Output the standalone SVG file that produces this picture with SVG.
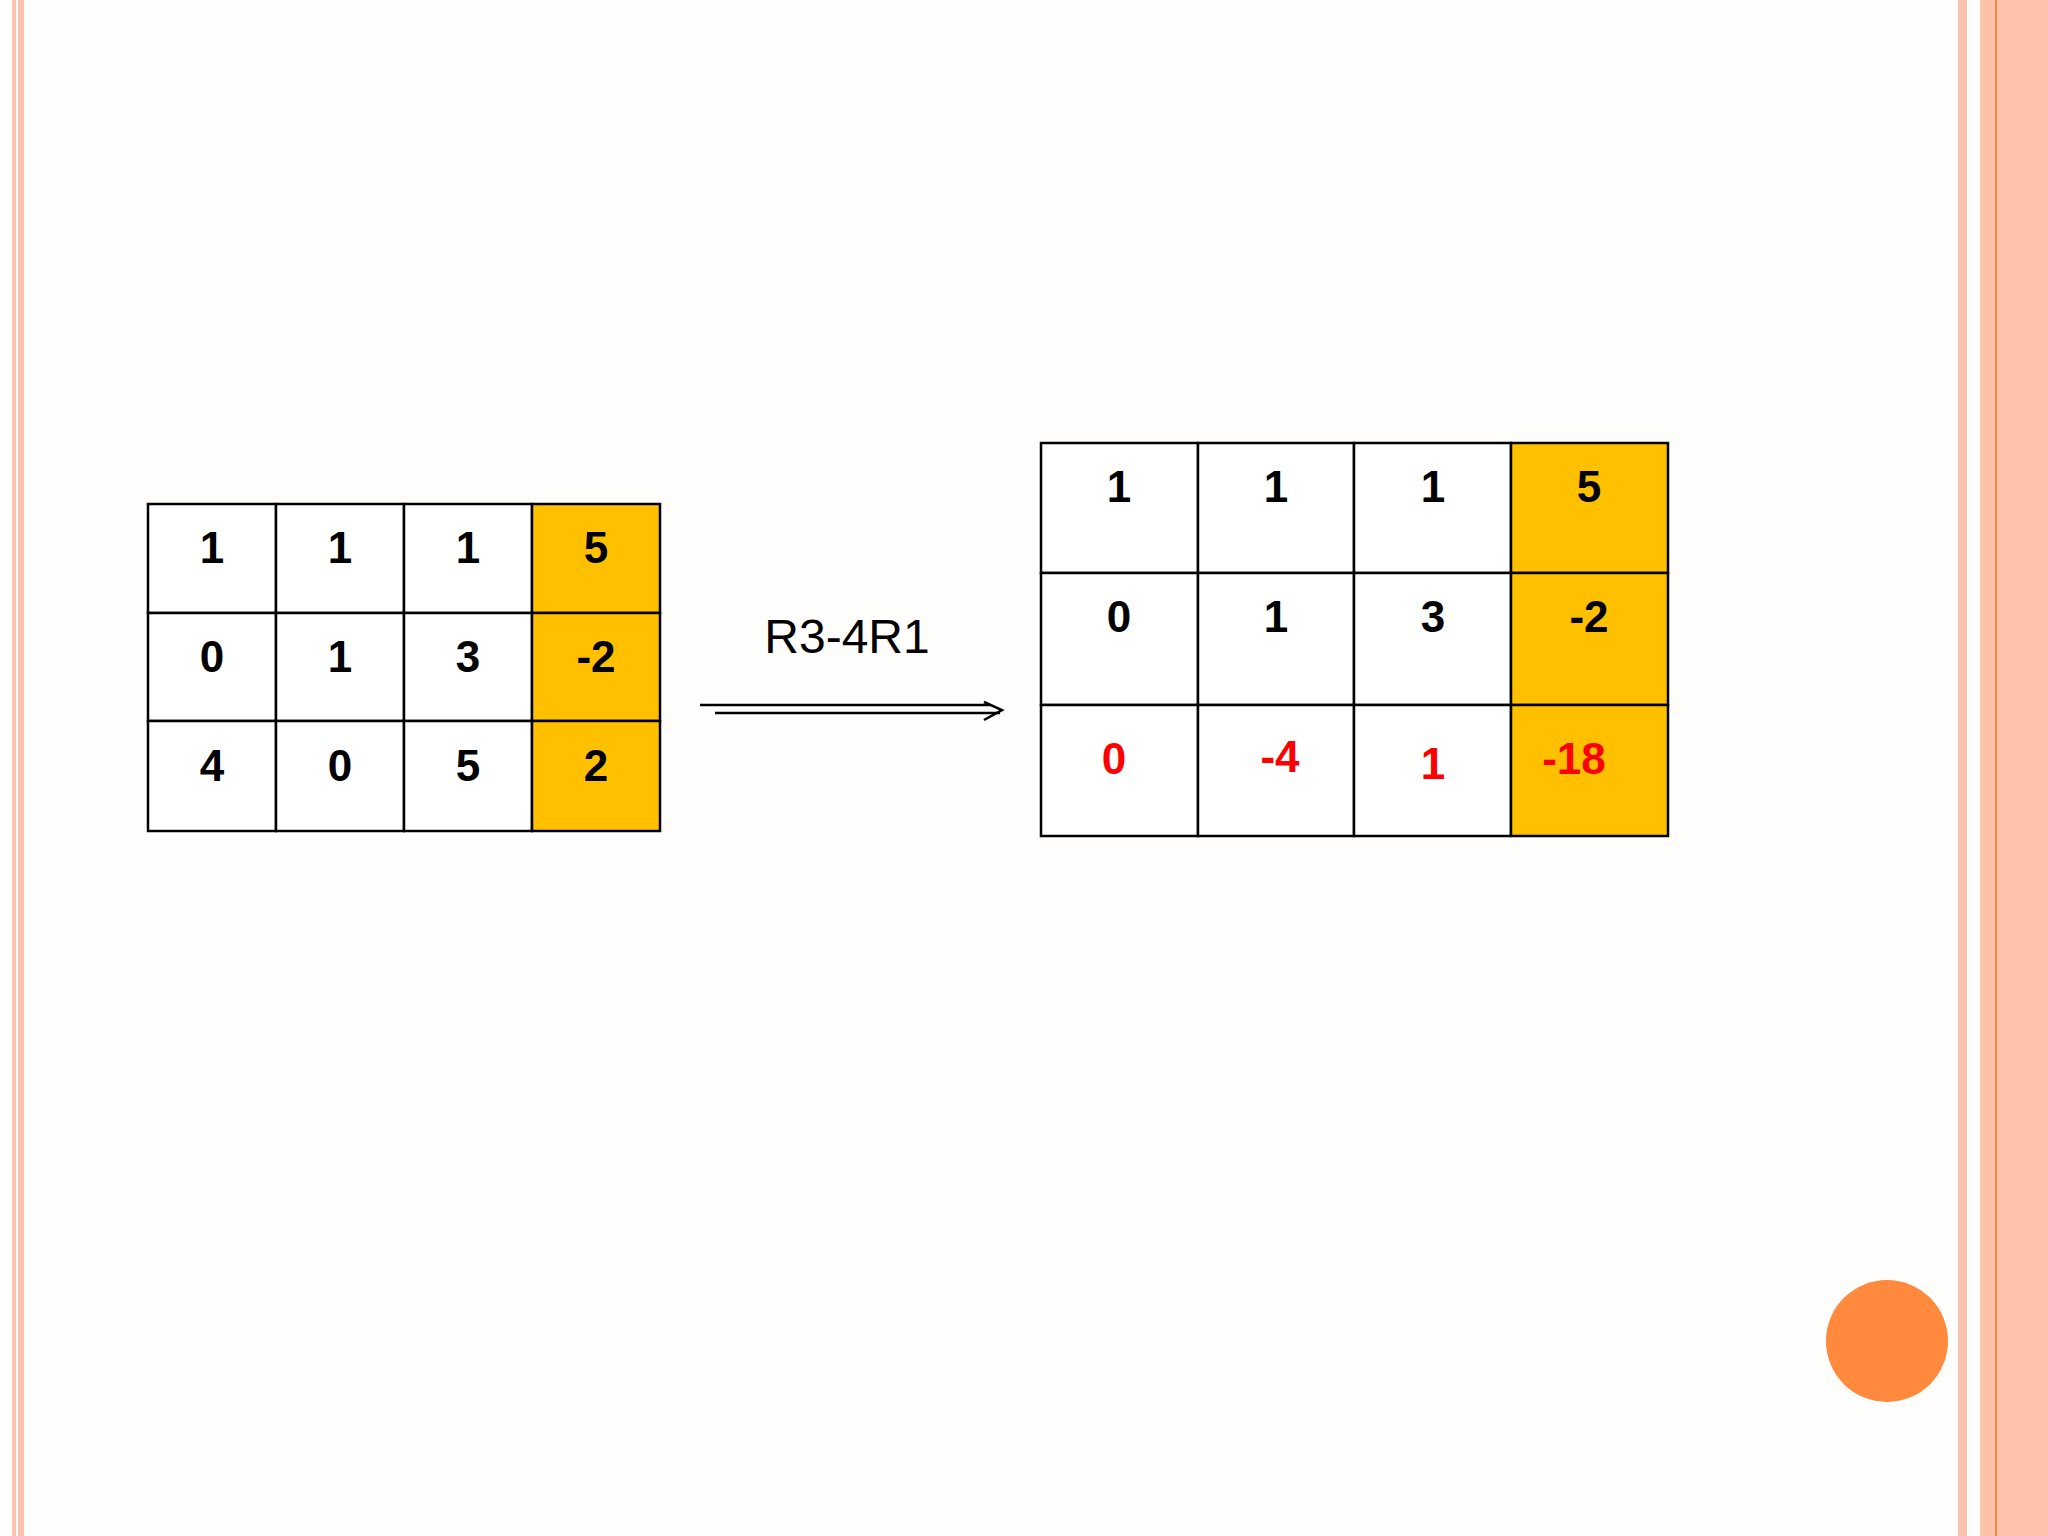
<svg xmlns="http://www.w3.org/2000/svg" width="2048" height="1536" viewBox="0 0 2048 1536">
<style>
.c{fill:#fff;stroke:#000;stroke-width:2.5}
.y{fill:#FFC000;stroke:#000;stroke-width:2.5}
.t{font-family:"Liberation Sans",Arial,sans-serif;font-weight:bold;font-size:44px;text-anchor:middle;fill:#000}
.r{fill:#FF0000}
</style>
<rect width="2048" height="1536" fill="#FFFEFC"/>
<rect x="12" y="0" width="4" height="1536" fill="#F9C3B0"/>
<rect x="18" y="0" width="6" height="1536" fill="#F9C3B0"/>
<rect x="1958" y="0" width="9" height="1536" fill="#F9C3B0"/>
<rect x="1980" y="0" width="68" height="1536" fill="#FDC3AA"/>
<rect x="1995" y="0" width="2" height="1536" fill="#F0884A"/>
<circle cx="1887" cy="1341" r="61" fill="#FF8A3D"/>
<g id="left-matrix">
<rect class="c" x="148" y="504" width="128" height="109"/><rect class="c" x="276" y="504" width="128" height="109"/><rect class="c" x="404" y="504" width="128" height="109"/><rect class="y" x="532" y="504" width="128" height="109"/>
<rect class="c" x="148" y="613" width="128" height="108"/><rect class="c" x="276" y="613" width="128" height="108"/><rect class="c" x="404" y="613" width="128" height="108"/><rect class="y" x="532" y="613" width="128" height="108"/>
<rect class="c" x="148" y="721" width="128" height="110"/><rect class="c" x="276" y="721" width="128" height="110"/><rect class="c" x="404" y="721" width="128" height="110"/><rect class="y" x="532" y="721" width="128" height="110"/>
<text class="t" x="212" y="563">1</text><text class="t" x="340" y="563">1</text><text class="t" x="468" y="563">1</text><text class="t" x="596" y="563">5</text>
<text class="t" x="212" y="672">0</text><text class="t" x="340" y="672">1</text><text class="t" x="468" y="672">3</text><text class="t" x="596" y="672">-2</text>
<text class="t" x="212" y="781">4</text><text class="t" x="340" y="781">0</text><text class="t" x="468" y="781">5</text><text class="t" x="596" y="781">2</text>
</g>
<g id="right-matrix">
<rect class="c" x="1041" y="443" width="157" height="130"/><rect class="c" x="1198" y="443" width="156" height="130"/><rect class="c" x="1354" y="443" width="157" height="130"/><rect class="y" x="1511" y="443" width="157" height="130"/>
<rect class="c" x="1041" y="573" width="157" height="132"/><rect class="c" x="1198" y="573" width="156" height="132"/><rect class="c" x="1354" y="573" width="157" height="132"/><rect class="y" x="1511" y="573" width="157" height="132"/>
<rect class="c" x="1041" y="705" width="157" height="131"/><rect class="c" x="1198" y="705" width="156" height="131"/><rect class="c" x="1354" y="705" width="157" height="131"/><rect class="y" x="1511" y="705" width="157" height="131"/>
<text class="t" x="1119" y="502">1</text><text class="t" x="1276" y="502">1</text><text class="t" x="1433" y="502">1</text><text class="t" x="1589" y="502">5</text>
<text class="t" x="1119" y="632">0</text><text class="t" x="1276" y="632">1</text><text class="t" x="1433" y="632">3</text><text class="t" x="1589" y="632">-2</text>
<text class="t r" x="1114" y="774">0</text><text class="t r" x="1280" y="772">-4</text><text class="t r" x="1433" y="779">1</text><text class="t r" x="1574" y="774">-18</text>
</g>
<g id="connectors" fill="none" stroke="#000" stroke-width="2.5">
<line x1="700" y1="705" x2="990" y2="705"/>
<line x1="715" y1="713" x2="1000" y2="713"/>
<polyline points="984,702 1002,710 984,720"/>
</g>
<text x="847" y="653" font-family="'Liberation Sans',Arial,sans-serif" font-size="48" text-anchor="middle" fill="#000">R3-4R1</text>
</svg>
